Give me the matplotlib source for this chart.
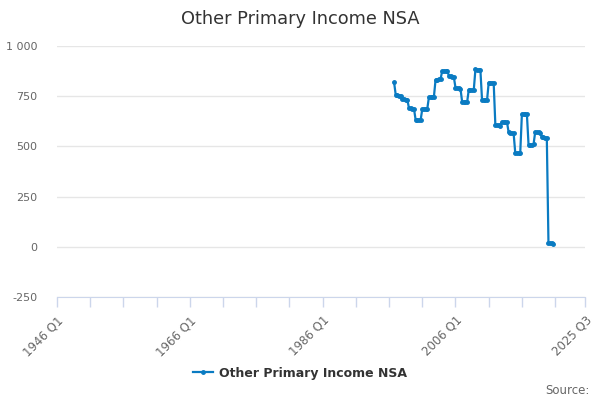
import matplotlib
matplotlib.use("Agg")
import matplotlib.pyplot as plt
from matplotlib.ticker import FuncFormatter, FixedLocator

# axis categories: 1946 Q1 .. 2025 Q3
first_year, last_year, last_q = 1946, 2025, 3
quarters = [f"{y} Q{q}" for y in range(first_year, last_year + 1) for q in range(1, 5)]
quarters = quarters[:quarters.index(f"{last_year} Q{last_q}") + 1]

# series (starts 1996 Q4)
series_start = "1996 Q4"
values = [
    820,
    757, 755, 753, 752,   # 1997
    735, 734, 733, 732,   # 1998
    690, 689, 688, 687,   # 1999
    632, 632, 631, 631,   # 2000
    686, 687, 687, 687,   # 2001
    745, 746, 746, 747,   # 2002
    832, 833, 834, 835,   # 2003
    876, 876, 876, 876,   # 2004
    853, 850, 847, 845,   # 2005
    793, 791, 789, 788,   # 2006
    722, 721, 720, 720,   # 2007
    782, 781, 780, 780,   # 2008
    883, 882, 882, 881,   # 2009
    730, 730, 729, 729,   # 2010
    818, 818, 817, 817,   # 2011
    608, 606, 605, 604,   # 2012
    622, 622, 621, 621,   # 2013
    571, 569, 567, 566,   # 2014
    467, 467, 468, 468,   # 2015
    662, 662, 661, 661,   # 2016
    508, 509, 509, 510,   # 2017
    571, 570, 570, 569,   # 2018
    546, 545, 544, 543,   # 2019
    18, 17, 17, 16,       # 2020
]
series_name = "Other Primary Income NSA"
labelled = ["1946 Q1", "1966 Q1", "1986 Q1", "2006 Q1", "2025 Q3"]
y_ticks = [-250, 0, 250, 500, 750, 1000]

start = quarters.index(series_start)
xs = list(range(start, start + len(values)))

fig = plt.figure(figsize=(6, 4), dpi=100)
ax = fig.add_axes([0.095, 0.2575, 0.88, 0.6275])

for s in ["top", "right", "left"]:
    ax.spines[s].set_visible(False)
ax.spines["bottom"].set_color("#ccd6eb")

ax.plot(xs, values, color="#0a7bc2", lw=1.6, marker="o", markersize=2.5,
        label=series_name)

ax.set_xlim(0, len(quarters) - 1)
ax.set_ylim(-250, 1000)
ax.set_yticks(y_ticks)
ax.yaxis.set_major_formatter(FuncFormatter(lambda v, p: f"{v:,.0f}".replace(",", " ")))
ax.grid(axis="y", color="#e6e6e6", lw=1)
ax.set_axisbelow(True)

# x ticks every 5 years, labels every 20 years + end
minor = list(range(0, len(quarters), 20)) + [len(quarters) - 1]
ax.xaxis.set_minor_locator(FixedLocator(minor))
ax.set_xticks([quarters.index(l) for l in labelled])
ax.tick_params(axis="x", which="both", length=7, color="#ccd6eb", width=1)
ax.tick_params(axis="x", which="major", pad=5, labelsize=8.5, labelcolor="#666666")
ax.tick_params(axis="y", length=0, pad=14, labelsize=8, labelcolor="#666666")
ax.set_xticklabels(labelled, rotation=45, ha="right", rotation_mode="anchor")

fig.text(0.5, 0.953, series_name, ha="center", va="center", fontsize=12.8, color="#333333")

leg = fig.legend(loc="center", bbox_to_anchor=(0.5, 1 - 373 / 400), frameon=False,
                 prop={"weight": "bold", "size": 9}, handlelength=1.6, handletextpad=0.5)
for t in leg.get_texts():
    t.set_color("#333333")

fig.text(0.982, 0.025, "Source:", ha="right", va="center", fontsize=8.5, color="#666666")

fig.savefig("out.png", dpi=100)
